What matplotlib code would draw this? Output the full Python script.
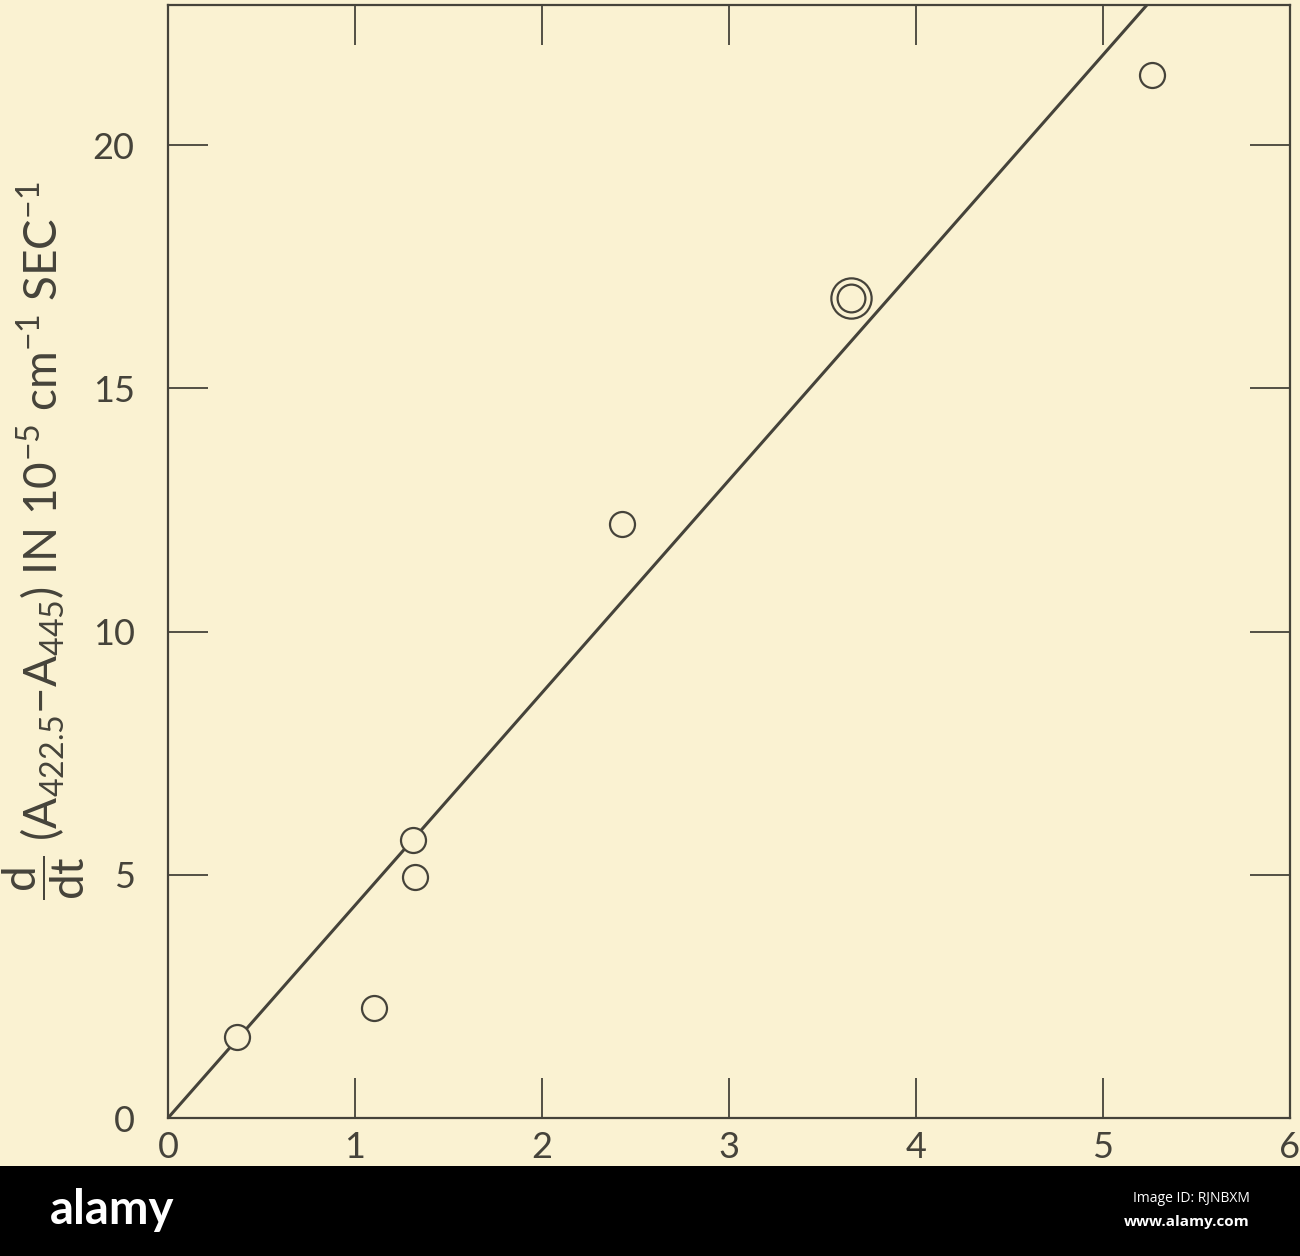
import matplotlib
matplotlib.use("Agg")
import matplotlib.pyplot as plt
from matplotlib.patches import Rectangle

# values
rate_x = [0.37, 1.10, 1.31, 1.32, 2.43, 5.26]
rate_y = [1.67, 2.26, 5.72, 4.95, 12.21, 21.44]
double_x = [3.65]
double_y = [16.85]
fit_x = [0.0, 5.5]
fit_y = [0.0, 24.04]
x_ticks = [0, 1, 2, 3, 4, 5, 6]
y_ticks = [0, 5, 10, 15, 20]

PAPER = "#faf2d2"
INK = "#45433a"

plt.rcParams["font.family"] = ["Lato", "DejaVu Sans"]
plt.rcParams["mathtext.default"] = "regular"

fig = plt.figure(figsize=(13, 12.56), dpi=100, facecolor=PAPER)
ax = fig.add_axes([168 / 1300, 138 / 1256, 1122 / 1300, 1113 / 1256])
ax.set_facecolor(PAPER)

ax.plot(fit_x, fit_y, color=INK, lw=2.2, zorder=2)
ax.plot(rate_x, rate_y, "o", ms=18, mfc=PAPER, mec=INK, mew=1.6, zorder=3)
ax.plot(double_x, double_y, "o", ms=29, mfc=PAPER, mec=INK, mew=1.6, zorder=3)
ax.plot(double_x, double_y, "o", ms=20, mfc=PAPER, mec=INK, mew=1.6, zorder=4)

ax.set_xlim(0, 6)
ax.set_ylim(0, 22.88)
ax.set_xticks(x_ticks)
ax.set_yticks(y_ticks)
ax.set_xticklabels([str(v) for v in x_ticks])
ax.set_yticklabels([str(v) for v in y_ticks])
ax.tick_params(direction="in", length=29, width=1.3, color=INK, labelcolor=INK,
               labelsize=26, top=True, right=True)
ax.tick_params(axis="x", pad=9)
ax.tick_params(axis="y", pad=24)
for side in ax.spines.values():
    side.set_color(INK)
    side.set_linewidth(1.6)

fig.text(44 / 1300, 1 - 541 / 1256,
         r"$\dfrac{d}{dt}$ (A$_{422.5}$$-$A$_{445}$) IN 10$^{-5}$ cm$^{-1}$ SEC$^{-1}$",
         rotation=90, ha="center", va="center", fontsize=33, color=INK)

# black stock-photo strip along the bottom of the scan
fig.patches.append(Rectangle((0, 0), 1, 90 / 1256, transform=fig.transFigure,
                             facecolor="black", edgecolor="none", zorder=5))
fig.text(50 / 1300, 1 - 1210 / 1256, "alamy", color="white", fontsize=34,
         fontweight="bold", ha="left", va="center", zorder=6, fontstretch="condensed")
fig.text(1250 / 1300, 1 - 1198 / 1256, "Image ID: RJNBXM", color="white", fontsize=10,
         ha="right", va="center", zorder=6, family="Open Sans")
fig.text(1250 / 1300, 1 - 1222 / 1256, "www.alamy.com", color="white", fontsize=11,
         fontweight="bold", ha="right", va="center", zorder=6, family="Open Sans")

fig.savefig("out.png", dpi=100, facecolor=PAPER)
